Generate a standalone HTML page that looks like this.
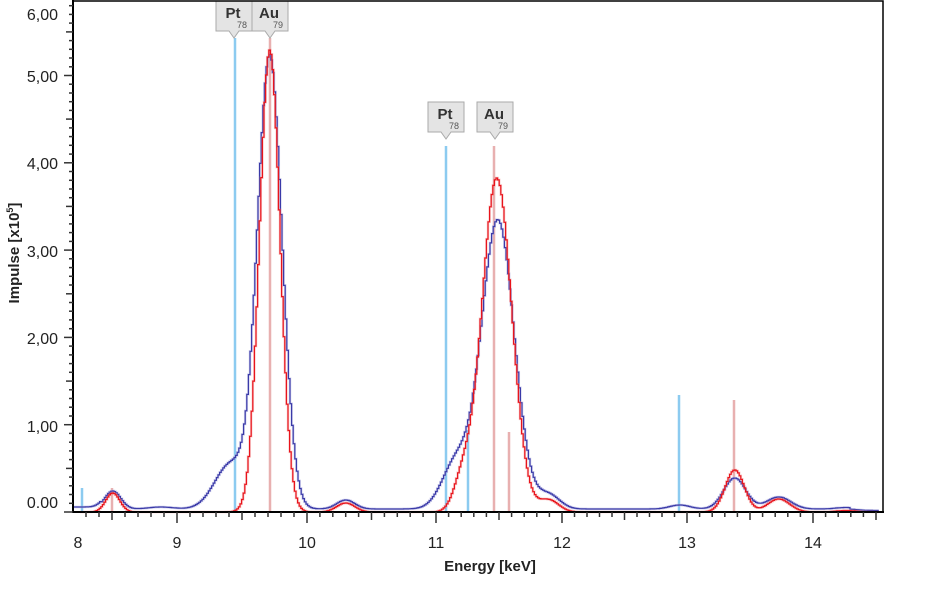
<!DOCTYPE html>
<html><head><meta charset="utf-8"><style>
html,body{margin:0;padding:0;background:#fff;}
svg{display:block;font-family:"Liberation Sans",sans-serif;}
</style></head><body>
<svg id="s" width="943" height="614" viewBox="0 0 943 614" xmlns="http://www.w3.org/2000/svg">
<rect x="0" y="0" width="943" height="614" fill="#fff"/>
<g id="vl">
<line x1="82" y1="488" x2="82" y2="512" stroke="#8ccbf0" stroke-width="2.5"/>
<line x1="235" y1="38" x2="235" y2="512" stroke="#8ccbf0" stroke-width="2.5"/>
<line x1="446" y1="146" x2="446" y2="512" stroke="#8ccbf0" stroke-width="2.5"/>
<line x1="468" y1="430" x2="468" y2="512" stroke="#8ccbf0" stroke-width="2.5"/>
<line x1="679" y1="395" x2="679" y2="512" stroke="#8ccbf0" stroke-width="2.5"/>
<line x1="112" y1="488" x2="112" y2="512" stroke="#e8b0b0" stroke-width="2.5"/>
<line x1="270" y1="38" x2="270" y2="512" stroke="#e8b0b0" stroke-width="2.5"/>
<line x1="494" y1="146" x2="494" y2="512" stroke="#e8b0b0" stroke-width="2.5"/>
<line x1="509" y1="432" x2="509" y2="512" stroke="#e8b0b0" stroke-width="2.5"/>
<line x1="734" y1="400" x2="734" y2="512" stroke="#e8b0b0" stroke-width="2.5"/>
</g>
<path id="pb" fill="none" stroke="#b8b8e4" stroke-width="2.5" opacity="0.6"/>
<path id="pb2" fill="none" stroke="#3a3aa8" stroke-width="1.2"/>
<path id="pr" fill="none" stroke="#f08080" stroke-width="2.5" opacity="0.4"/>
<path id="pr2" fill="none" stroke="#e8141c" stroke-width="1.2"/>
<g id="tags"></g>
<polyline points="73,1 883,1 883,512" fill="none" stroke="#000" stroke-width="1.5"/>
<line x1="73" y1="0" x2="73" y2="513" stroke="#000" stroke-width="2"/>
<line x1="72" y1="512" x2="884" y2="512" stroke="#000" stroke-width="2"/>
<g id="ticks" stroke="#333" stroke-width="1.5"></g>
<g font-size="16" fill="#222" text-anchor="end">
<text x="58" y="20">6,00</text>
<text x="58" y="82">5,00</text>
<text x="58" y="169">4,00</text>
<text x="58" y="257">3,00</text>
<text x="58" y="344">2,00</text>
<text x="58" y="432">1,00</text>
<text x="58" y="508">0.00</text>
</g>
<g font-size="16" fill="#222" text-anchor="middle">
<text x="78" y="548">8</text>
<text x="177" y="548">9</text>
<text x="307" y="548">10</text>
<text x="436" y="548">11</text>
<text x="562" y="548">12</text>
<text x="687" y="548">13</text>
<text x="813" y="548">14</text>
</g>
<text x="490" y="571" font-size="15" font-weight="bold" fill="#222" text-anchor="middle">Energy [keV]</text>
<text transform="translate(19,253) rotate(-90)" font-size="15" font-weight="bold" fill="#222" text-anchor="middle">Impulse [x10<tspan font-size="9" dy="-6">5</tspan><tspan dy="6">]</tspan></text>
</svg>
<script>
function g(x,c,s,h){return h*Math.exp(-0.5*((x-c)/s)*((x-c)/s));}
function red(x){return g(x,112,7,19)+g(x,269,10.2,462)+g(x,345,9,9)+g(x,462,9,30)+g(x,496,15,334)+g(x,548,10,12)+g(x,734,9.5,42)+g(x,778,11,13)+g(x,845,10,1.5);}
function blue(x){var b=x<100?5:(x<850?3:1.5);return b+g(x,112,8,18)+g(x,160,12,2)+g(x,230,16,45)+g(x,269,12.3,452)+g(x,345,9,9)+g(x,455,14,45)+g(x,497,16.5,289)+g(x,548,11,14)+g(x,679,10,4)+g(x,734,11,31)+g(x,778,12,12)+g(x,845,10,1.5);}
function path(f,x0,x1,step){var d="";for(var x=x0;x<=x1;x+=step){var y=(512-f(x)).toFixed(1);if(!d){d="M"+x+","+y;}else{d+="H"+x.toFixed(1)+"V"+y;}}return d;}
var pb=path(blue,74,880,1.6),pr=path(red,80,880,1.6);
document.getElementById("pb").setAttribute("d",pb);
document.getElementById("pb2").setAttribute("d",pb);
document.getElementById("pr").setAttribute("d",pr);
document.getElementById("pr2").setAttribute("d",pr);
var t=document.getElementById("ticks"),s="";
for(var i=0;i<=60;i++){var y=512-87.3*i/10;if(y<4)break;var L=(i%10==0)?9:(i%5==0?7:4);s+='<line x1="'+(73-L)+'" y1="'+y.toFixed(1)+'" x2="73" y2="'+y.toFixed(1)+'"/>';}
var maj=[[9,177],[10,307],[11,436],[12,562],[13,687],[14,813]];
function xp(e){for(var k=0;k<maj.length-1;k++){if(e<=maj[k+1][0]+1e-9||k==maj.length-2){var a=maj[k],b=maj[k+1];return a[1]+(e-a[0])*(b[1]-a[1]);}}}
for(var j=82;j<=145;j++){var e=j/10,x=xp(e);if(x<73||x>880)continue;var L2=(j%10==0)?11:(j%5==0?8:5);s+='<line x1="'+x.toFixed(1)+'" y1="512" x2="'+x.toFixed(1)+'" y2="'+(512+L2)+'"/>';}
t.innerHTML=s;
function tag(x,y,sym,num){return '<g><path d="M'+(x-18)+','+y+' h36 v30 h-13 l-5,7 l-5,-7 h-13 z" fill="#e4e4e4" stroke="#aaa" stroke-width="1"/><text x="'+(x-1)+'" y="'+(y+17)+'" font-size="15" font-weight="bold" fill="#333" text-anchor="middle">'+sym+'</text><text x="'+(x+8)+'" y="'+(y+27)+'" font-size="9" fill="#555" text-anchor="middle">'+num+'</text></g>';}
document.getElementById("tags").innerHTML=tag(234,1,"Pt","78")+tag(270,1,"Au","79")+tag(446,102,"Pt","78")+tag(495,102,"Au","79");
</script>
</body></html>
